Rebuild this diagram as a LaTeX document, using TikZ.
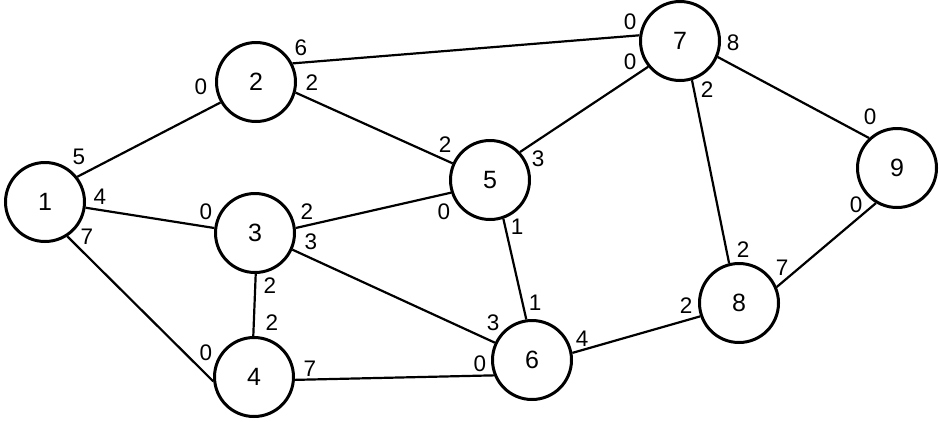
\documentclass[tikz,border=0pt]{standalone}
\usepackage{fontspec}
\setmainfont{Liberation Sans}
\begin{document}
\begin{tikzpicture}[x=1pt,y=-1pt,
  vertex/.style={circle,draw,line width=3pt,minimum size=79pt,inner sep=0pt,font=\fontsize{25}{25}\selectfont},
  lbl/.style={inner sep=0pt,font=\fontsize{22.5}{22.5}\selectfont},
  edge/.style={line width=2.2pt}]
\useasboundingbox (0,0) rectangle (939,421);
% vertices
\node[vertex] (n1) at (45,202) {1};
\node[vertex] (n2) at (256,82) {2};
\node[vertex] (n3) at (255,233) {3};
\node[vertex] (n4) at (254,377) {4};
\node[vertex] (n5) at (490,180) {5};
\node[vertex] (n6) at (532,360) {6};
\node[vertex] (n7) at (680,41) {7};
\node[vertex] (n8) at (739,303) {8};
\node[vertex] (n9) at (897,168) {9};
% edges
\draw[edge] (n1.38) -- (n2.210);
\draw[edge] (n1.-8) -- (n3.173);
\draw[edge] (n1.-57) -- (n4.186);
\draw[edge] (n2.27) -- (n7.172);
\draw[edge] (n2.-15) -- (n5.156);
\draw[edge] (n3.7) -- (n5.198);
\draw[edge] (n3.-24) -- (n6.155);
\draw[edge] (n3.-89) -- (n4.91);
\draw[edge] (n4.-4) -- (n6.202);
\draw[edge] (n5.43) -- (n7.219);
\draw[edge] (n5.-71) -- (n6.98);
\draw[edge] (n7.-23) -- (n9.133);
\draw[edge] (n7.-73) -- (n8.104);
\draw[edge] (n6.10) -- (n8.199);
\draw[edge] (n8.23) -- (n9.239);
% edge labels
\node[lbl] (l1a) at (79,157) {5};
\node[lbl] (l1b) at (100,197) {4};
\node[lbl] (l1c) at (87,237) {7};
\node[lbl] (l2a) at (201,87) {0};
\node[lbl] (l2b) at (301,48) {6};
\node[lbl] (l2c) at (312,83) {2};
\node[lbl] (l3a) at (206,212) {0};
\node[lbl] (l3b) at (307,212) {2};
\node[lbl] (l3c) at (311,242) {3};
\node[lbl] (l3d) at (270,286) {2};
\node[lbl] (l4a) at (272,323) {2};
\node[lbl] (l4b) at (206,353) {0};
\node[lbl] (l4c) at (310,369) {7};
\node[lbl] (l5a) at (445,145) {2};
\node[lbl] (l5b) at (538,159) {3};
\node[lbl] (l5c) at (444,212) {0};
\node[lbl] (l5d) at (517,227) {1};
\node[lbl] (l6a) at (535,303) {1};
\node[lbl] (l6b) at (493,323) {3};
\node[lbl] (l6c) at (480,364) {0};
\node[lbl] (l6d) at (582,339) {4};
\node[lbl] (l7a) at (630,22) {0};
\node[lbl] (l7b) at (630,62) {0};
\node[lbl] (l7c) at (733,43) {8};
\node[lbl] (l7d) at (707,90) {2};
\node[lbl] (l8a) at (743,250) {2};
\node[lbl] (l8b) at (782,268) {7};
\node[lbl] (l8c) at (686,306) {2};
\node[lbl] (l9a) at (870,117) {0};
\node[lbl] (l9b) at (856,205) {0};
\end{tikzpicture}
\end{document}
